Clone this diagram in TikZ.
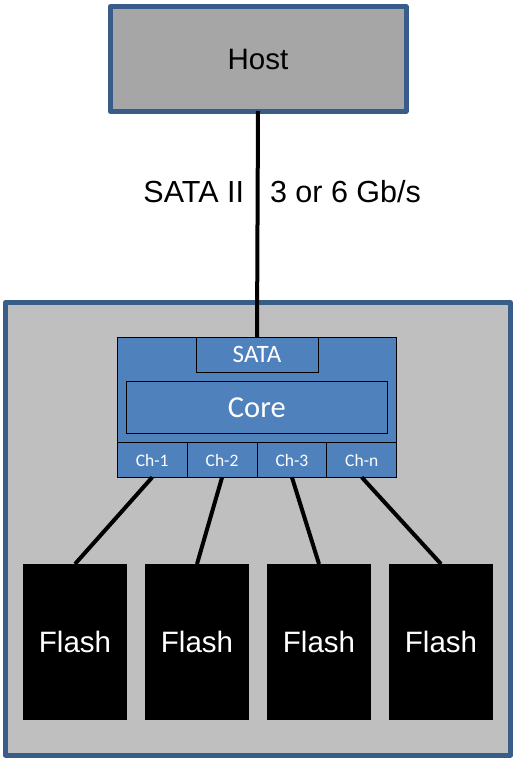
\documentclass[tikz,border=0pt]{standalone}
\usepackage{fontspec}
\setmainfont{Liberation Sans}
\newfontfamily\calibrifont{Carlito}
\usetikzlibrary{positioning}
\definecolor{edgeblue}{HTML}{385D8A}
\definecolor{hostgray}{HTML}{A6A6A6}
\definecolor{boardgray}{HTML}{BFBFBF}
\definecolor{ctrlblue}{HTML}{4F81BD}

\begin{document}
\begin{tikzpicture}[x=1pt, y=-1pt,
    every node/.style={inner sep=0pt, outer sep=0pt},
    frame/.style={draw=edgeblue, line width=5pt, line join=round},
    part/.style={draw=black, line width=1pt, fill=ctrlblue, text=white},
    chan/.style={part, minimum width=69.85pt, minimum height=34.6pt, font=\calibrifont\fontsize{17.5}{20}\selectfont},
    flash/.style={fill=black, text=white, minimum width=104pt, minimum height=156pt, font=\fontsize{29.5}{34}\selectfont},
    lbl/.style={font=\fontsize{30.5}{35}\selectfont},
    bus/.style={draw=black, line width=4pt}]
    \useasboundingbox (0,0) rectangle (515,760);

    \node (board) [frame, fill=boardgray, minimum width=505pt, minimum height=452.5pt] at (258,528.75) {};
    \node (host) [frame, fill=hostgray, minimum width=296pt, minimum height=104pt, font=\fontsize{29.5}{34}\selectfont] at (258,59) {Host};

    \node (ctrl) [part, minimum width=279.4pt, minimum height=140pt] at (257,407.3) {};
    \node (sata) [part, below=0pt of ctrl.north, minimum width=122pt, minimum height=35pt, font=\calibrifont\fontsize{25}{28}\selectfont] {SATA};
    \node (core) [part, minimum width=261pt, minimum height=52pt, font=\calibrifont\fontsize{30.5}{34}\selectfont] at (256.8,407.3) {Core};
    \node (ch1) [chan, anchor=south west] at (ctrl.south west) {Ch-1};
    \node (ch2) [chan, right=0pt of ch1] {Ch-2};
    \node (ch3) [chan, right=0pt of ch2] {Ch-3};
    \node (chn) [chan, right=0pt of ch3] {Ch-n};

    \node (flash1) [flash] at (75,642) {Flash};
    \node (flash2) [flash, right=18pt of flash1] {Flash};
    \node (flash3) [flash, right=18pt of flash2] {Flash};
    \node (flash4) [flash, right=18pt of flash3] {Flash};

    \draw[bus] (host.south) -- (sata.north);
    \node (busname) [lbl, anchor=base east] at (244,202) {SATA II};
    \node (busrate) [lbl, anchor=base west] at (270,202) {3 or 6 Gb/s};

    \draw[bus] (ch1.south) -- (flash1.north);
    \draw[bus] (ch2.south) -- (flash2.north);
    \draw[bus] (ch3.south) -- (flash3.north);
    \draw[bus] (chn.south) -- (flash4.north);

\end{tikzpicture}
\end{document}
